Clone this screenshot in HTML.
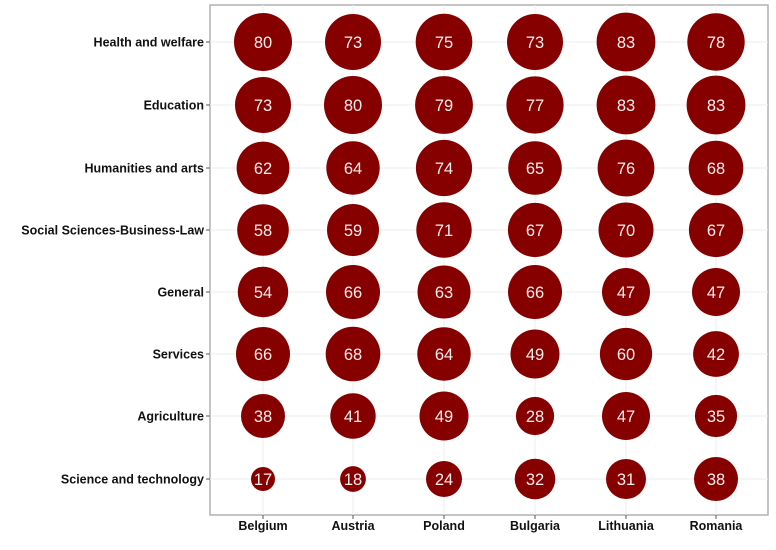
<!DOCTYPE html>
<html><head><meta charset="utf-8"><style>
body{margin:0;background:#fff;}
svg{display:block;font-family:"Liberation Sans",Arial,sans-serif;}
</style></head><body>
<svg id="s" width="776" height="550" viewBox="0 0 776 550" xmlns="http://www.w3.org/2000/svg"></svg>
<script>
const rows=["Health and welfare","Education","Humanities and arts","Social Sciences-Business-Law","General","Services","Agriculture","Science and technology"];
const cols=["Belgium","Austria","Poland","Bulgaria","Lithuania","Romania"];
const data=[[80,73,75,73,83,78],[73,80,79,77,83,83],[62,64,74,65,76,68],[58,59,71,67,70,67],[54,66,63,66,47,47],[66,68,64,49,60,42],[38,41,49,28,47,35],[17,18,24,32,31,38]];
const xs=[263,353,444,535,626,716];
const ys=[42,105,168,230,292,354,416,479];
const pts=[[17,12],[24,18],[38,22],[49,24.5],[80,29],[90,30.5]];
function r(v){for(let i=0;i<pts.length-1;i++){if(v<=pts[i+1][0]){const[a,b]=pts[i],[c,d]=pts[i+1];return b+(v-a)*(d-b)/(c-a);}}return 30.5;}
let h='<rect x="210" y="5" width="558" height="510" fill="#fff" stroke="#b0b0b0" stroke-width="1.5"/>';
xs.forEach(x=>h+=`<line x1="${x}" y1="5" x2="${x}" y2="515" stroke="#ececec"/>`);
ys.forEach(y=>h+=`<line x1="210" y1="${y}" x2="768" y2="${y}" stroke="#ececec"/>`);
rows.forEach((n,i)=>{h+=`<text x="204" y="${ys[i]+4.5}" text-anchor="end" font-size="12.5" font-weight="bold" fill="#111">${n}</text><line x1="206" y1="${ys[i]}" x2="210" y2="${ys[i]}" stroke="#555"/>`;});
cols.forEach((n,j)=>{h+=`<text x="${xs[j]}" y="530" text-anchor="middle" font-size="12.5" font-weight="bold" fill="#111">${n}</text><line x1="${xs[j]}" y1="515" x2="${xs[j]}" y2="519" stroke="#555"/>`;});
data.forEach((row,i)=>row.forEach((v,j)=>{h+=`<circle cx="${xs[j]}" cy="${ys[i]}" r="${r(v).toFixed(1)}" fill="#870000"/><text x="${xs[j]}" y="${ys[i]+6}" text-anchor="middle" font-size="16.5" fill="#f6eeee">${v}</text>`;}));
document.getElementById('s').innerHTML=h;
</script>
</body></html>
